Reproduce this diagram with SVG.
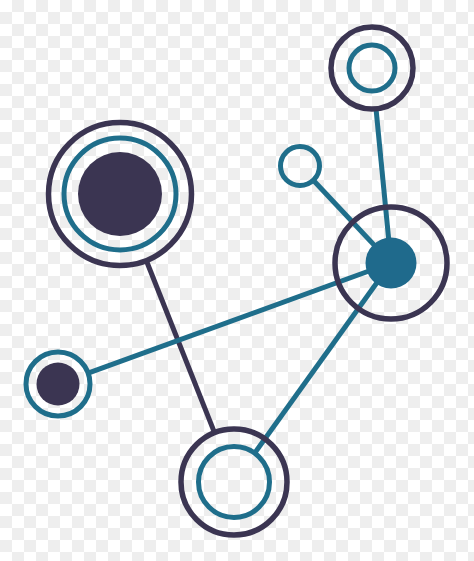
<svg xmlns="http://www.w3.org/2000/svg" width="474" height="561" viewBox="0 0 474 561">
<defs>
<pattern id="checker" width="24" height="24" patternUnits="userSpaceOnUse">
<rect width="24" height="24" fill="#ffffff"/>
<rect x="12" y="0" width="12" height="12" fill="#eeeeee"/>
<rect x="0" y="12" width="12" height="12" fill="#eeeeee"/>
</pattern>
<style>
.dark{fill:none;stroke:#3b3552;stroke-width:5.5}
.teal{fill:none;stroke:#1f6e8b;stroke-width:5}
.darkfill{fill:#3b3552}
.tealfill{fill:#1f6a8c}
.dline{stroke:#3b3552;stroke-width:5;stroke-linecap:butt}
.tline{stroke:#1f6e8b;stroke-width:5;stroke-linecap:butt}
</style>
</defs>
<rect width="474" height="561" fill="url(#checker)"/>
<g id="connectors">
<line class="dline" x1="146.3" y1="260.5" x2="214.5" y2="432.7"/>
<line class="tline" x1="88.1" y1="373.1" x2="391" y2="263"/>
<line class="tline" x1="391" y1="263" x2="254.7" y2="453.1"/>
<line class="tline" x1="313.3" y1="180.2" x2="391" y2="263"/>
<line class="tline" x1="376" y1="108.8" x2="391" y2="263"/>
</g>
<g id="node-big">
<circle class="dark" cx="120" cy="194" r="71.5"/>
<circle class="teal" cx="120" cy="194" r="56"/>
<circle class="darkfill" cx="120" cy="194" r="42"/>
</g>
<g id="node-top-right">
<circle class="dark" cx="372" cy="68" r="41"/>
<circle class="teal" cx="372" cy="68" r="23"/>
</g>
<g id="node-small">
<circle class="teal" cx="300" cy="166" r="19.5"/>
</g>
<g id="node-hub">
<circle class="dark" cx="391" cy="263" r="56"/>
<circle class="tealfill" cx="391" cy="263" r="25.5"/>
</g>
<g id="node-left">
<circle class="teal" cx="58" cy="384" r="32"/>
<circle class="darkfill" cx="58" cy="384" r="21.5"/>
</g>
<g id="node-bottom">
<circle class="dark" cx="234" cy="482" r="53"/>
<circle class="teal" cx="234" cy="482" r="35.5"/>
</g>
</svg>
